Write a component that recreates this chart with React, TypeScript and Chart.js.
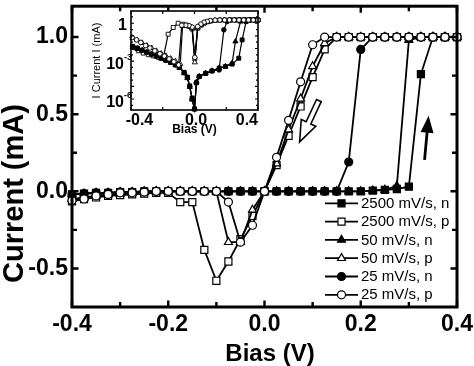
import React, { useEffect, useRef } from 'react';
import { Chart, registerables } from 'chart.js';

Chart.register(...registerables);

const FONT = '"Liberation Sans", Arial, Helvetica, sans-serif';

// ---------------- main plot data ----------------
const xTickValues = [-0.4, -0.2, 0, 0.2, 0.4];
const xMinorValues = [-0.3, -0.1, 0.1, 0.3];
const yTickValues = [-0.5, 0, 0.5, 1.0];
const yMinorValues = [-0.25, 0.25, 0.75];

const seriesLabels = ['2500 mV/s, n', '2500 mV/s, p', '50 mV/s, n', '50 mV/s, p', '25 mV/s, n', '25 mV/s, p'];

// forward sweep (n): -0.4 -> 0.4
const biasForward = [-0.4, -0.375, -0.35, -0.325, -0.3, -0.275, -0.25, -0.225, -0.2, -0.175, -0.15, -0.125, -0.1, -0.075, -0.05, -0.025, 0, 0.025, 0.05, 0.075, 0.1, 0.125, 0.15, 0.175, 0.2, 0.225, 0.25, 0.275, 0.3, 0.325, 0.35, 0.375, 0.4];
// reverse sweep (p): 0.4 -> -0.4
const biasReverse = [0.4, 0.375, 0.35, 0.325, 0.3, 0.275, 0.25, 0.225, 0.2, 0.175, 0.15, 0.125, 0.1, 0.075, 0.05, 0.025, 0, -0.025, -0.05, -0.075, -0.1, -0.125, -0.15, -0.175, -0.2, -0.225, -0.25, -0.275, -0.3, -0.325, -0.35, -0.375, -0.4];

const cur2500n = [-0.02, -0.015, -0.01, -0.01, -0.005, -0.005, 0, 0, 0, 0, 0, 0, 0, 0, 0, 0, 0, 0, 0, 0, 0, 0, 0, 0, 0, 0.005, 0.01, 0.015, 0.03, 0.76, 1.0, 1.0, 1.0];
const cur2500p = [1, 1, 1, 1, 1, 1, 1, 1, 1, 1, 1, 0.92, 0.74, 0.55, 0.36, 0.17, 0, -0.16, -0.31, -0.455, -0.58, -0.38, -0.07, -0.07, -0.01, -0.01, -0.015, -0.02, -0.025, -0.03, -0.04, -0.05, -0.065];
const cur50n = [-0.02, -0.015, -0.01, -0.01, -0.005, -0.005, 0, 0, 0, 0, 0, 0, 0, 0, 0, 0, 0, 0, 0, 0, 0, 0, 0, 0, 0, 0.005, 0.01, 0.035, 0.98, 1.0, 1.0, 1.0, 1.0];
const cur50p = [1, 1, 1, 1, 1, 1, 1, 1, 1, 1, 1, 0.96, 0.81, 0.6, 0.4, 0.18, 0, -0.12, -0.33, -0.33, 0, 0, 0, 0, 0, 0, -0.005, -0.01, -0.015, -0.02, -0.03, -0.04, -0.05];
const cur25n = [-0.02, -0.015, -0.01, -0.01, -0.005, -0.005, 0, 0, 0, 0, 0, 0, 0, 0, 0, 0, 0, 0, 0, 0, 0, 0, 0, 0.19, 0.92, 1.0, 1.0, 1.0, 1.0, 1.0, 1.0, 1.0, 1.0];
const cur25p = [1, 1, 1, 1, 1, 1, 1, 1, 1, 1, 1, 1, 0.95, 0.71, 0.46, 0.22, 0, -0.22, -0.33, -0.07, 0, 0, 0, 0, 0, 0, -0.005, -0.01, -0.01, -0.02, -0.03, -0.05, -0.06];

// ---------------- inset data (|I|, log scale) ----------------
const insetXTicks = [-0.4, 0, 0.4];
const insetXMinor = [-0.2, 0.2];
const insetYTicks = [1, 1e-3, 1e-6];

const inBiasN25 = [-0.39, -0.36, -0.33, -0.3, -0.27, -0.24, -0.21, -0.18, -0.15, -0.12, -0.095, -0.065, -0.045, -0.03, -0.015, 0, 0.012, 0.03, 0.07, 0.11, 0.155, 0.185, 0.205, 0.23, 0.26, 0.29, 0.32, 0.35, 0.38, 0.4];
const inCurN25 = [0.014, 0.01, 0.007, 0.005, 0.0035, 0.0025, 0.0017, 0.0012, 0.0008, 0.0005, 0.00032, 0.00012, 0.00005, 0.00001, 0.000001, 1.6e-7, 0.00002, 0.00006, 0.00011, 0.00017, 0.0002, 0.3, 1.35, 1.8, 1.8, 1.8, 1.8, 1.8, 1.8, 1.8];
const inBiasN50 = [-0.39, -0.36, -0.33, -0.3, -0.27, -0.24, -0.21, -0.18, -0.15, -0.12, -0.095, -0.065, -0.045, -0.03, -0.015, 0, 0.012, 0.03, 0.07, 0.11, 0.155, 0.195, 0.237, 0.258, 0.29, 0.32, 0.35, 0.38, 0.4];
const inCurN50 = [0.013, 0.0095, 0.0068, 0.0048, 0.0034, 0.0024, 0.0016, 0.0011, 0.00075, 0.00048, 0.0003, 0.00011, 0.000045, 0.000009, 0.0000009, 1.5e-7, 0.000022, 0.000063, 0.00011, 0.00017, 0.00028, 0.00038, 0.0007, 0.036, 1.35, 1.8, 1.8, 1.8, 1.8];
const inBiasN2500 = [-0.39, -0.36, -0.33, -0.3, -0.27, -0.24, -0.21, -0.18, -0.15, -0.12, -0.095, -0.065, -0.045, -0.03, -0.015, 0, 0.012, 0.03, 0.07, 0.11, 0.155, 0.195, 0.237, 0.279, 0.3, 0.325, 0.35, 0.38, 0.4];
const inCurN2500 = [0.015, 0.011, 0.0075, 0.0052, 0.0036, 0.0026, 0.0018, 0.0012, 0.00082, 0.00052, 0.00033, 0.00013, 0.000055, 0.000011, 0.0000012, 1.7e-7, 0.000019, 0.00006, 0.000105, 0.000165, 0.00028, 0.00038, 0.00058, 0.0017, 0.048, 1.35, 1.8, 1.8, 1.8];

const inBiasP25 = [0.4, 0.37, 0.34, 0.31, 0.28, 0.25, 0.22, 0.19, 0.16, 0.13, 0.1, 0.08, 0.06, 0.04, 0.02, 0.002, -0.015, -0.035, -0.055, -0.08, -0.1, -0.13, -0.16, -0.19, -0.218, -0.25, -0.281, -0.308, -0.338, -0.365, -0.392];
const inCurP25 = [1.8, 1.8, 1.8, 1.8, 1.8, 1.8, 1.8, 1.8, 1.8, 1.75, 1.6, 1.4, 1.2, 0.85, 0.55, 0.002, 0.5, 0.65, 0.7, 0.7, 0.0005, 0.0009, 0.0015, 0.0025, 0.0038, 0.0065, 0.011, 0.017, 0.03, 0.048, 0.074];
const inBiasP50 = [0.4, 0.37, 0.34, 0.31, 0.28, 0.25, 0.22, 0.19, 0.16, 0.13, 0.1, 0.08, 0.06, 0.04, 0.02, 0.002, -0.015, -0.035, -0.055, -0.075, -0.09, -0.12, -0.15, -0.18, -0.21, -0.24, -0.27, -0.3, -0.33, -0.36, -0.39];
const inCurP50 = [1.8, 1.8, 1.8, 1.8, 1.8, 1.8, 1.8, 1.8, 1.75, 1.65, 1.45, 1.25, 1.0, 0.7, 0.45, 0.0008, 0.4, 0.55, 0.6, 0.6, 0.0006, 0.001, 0.0016, 0.0026, 0.004, 0.0065, 0.011, 0.017, 0.028, 0.045, 0.07];
const inBiasP2500 = [0.4, 0.37, 0.34, 0.31, 0.28, 0.25, 0.22, 0.19, 0.16, 0.13, 0.1, 0.08, 0.06, 0.04, 0.02, 0.002, -0.015, -0.03, -0.05, -0.071, -0.103, -0.134, -0.166, -0.197, -0.228, -0.26, -0.291, -0.323, -0.354, -0.386];
const inCurP2500 = [1.8, 1.8, 1.8, 1.8, 1.8, 1.8, 1.8, 1.8, 1.75, 1.7, 1.5, 1.3, 1.0, 0.7, 0.4, 0.0015, 0.35, 0.55, 0.7, 0.83, 1.0, 0.46, 0.135, 0.0017, 0.002, 0.0026, 0.0032, 0.0043, 0.0066, 0.012];

// ---------------- styles ----------------
const markerStyles = ['rect', 'rect', 'triangle', 'triangle', 'circle', 'circle'];
const markerFills = ['#000', '#fff', '#000', '#fff', '#000', '#fff'];
const mainRadius = [5, 5, 4.6, 4.6, 4, 4];
const insetRadius = [2.8, 2.8, 3, 3, 2.3, 2.3];
const drawOrder = [5, 4, 3, 2, 1, 0];

function toPoints(xs: number[], ys: number[]) {
  return xs.map((x, i) => ({ x, y: ys[i] }));
}

function zeroPadding(s: any) {
  s.paddingTop = 0;
  s.paddingBottom = 0;
  s.paddingLeft = 0;
  s.paddingRight = 0;
}

function drawMarker(ctx: CanvasRenderingContext2D, style: string, x: number, y: number, r: number, fill: string, lw: number) {
  ctx.save();
  ctx.beginPath();
  if (style === 'rect') {
    const s = r * Math.SQRT1_2;
    ctx.rect(x - s, y - s, 2 * s, 2 * s);
  } else if (style === 'triangle') {
    let rad = 0;
    ctx.moveTo(x + Math.sin(rad) * r, y - Math.cos(rad) * r);
    rad += (2 * Math.PI) / 3;
    ctx.lineTo(x + Math.sin(rad) * r, y - Math.cos(rad) * r);
    rad += (2 * Math.PI) / 3;
    ctx.lineTo(x + Math.sin(rad) * r, y - Math.cos(rad) * r);
    ctx.closePath();
  } else {
    ctx.arc(x, y, r, 0, Math.PI * 2);
  }
  ctx.fillStyle = fill;
  ctx.fill();
  ctx.lineWidth = lw;
  ctx.strokeStyle = '#000';
  ctx.stroke();
  ctx.restore();
}

function drawArrow(ctx: CanvasRenderingContext2D, x0: number, y0: number, x1: number, y1: number, headLen: number, headHalf: number, shaftHalf: number, hollow: boolean) {
  const dx = x1 - x0;
  const dy = y1 - y0;
  const len = Math.hypot(dx, dy);
  const ux = dx / len;
  const uy = dy / len;
  const nx = -uy;
  const ny = ux;
  const bx = x1 - ux * headLen;
  const by = y1 - uy * headLen;
  ctx.save();
  ctx.beginPath();
  ctx.moveTo(x0 + nx * shaftHalf, y0 + ny * shaftHalf);
  ctx.lineTo(bx + nx * shaftHalf, by + ny * shaftHalf);
  ctx.lineTo(bx + nx * headHalf, by + ny * headHalf);
  ctx.lineTo(x1, y1);
  ctx.lineTo(bx - nx * headHalf, by - ny * headHalf);
  ctx.lineTo(bx - nx * shaftHalf, by - ny * shaftHalf);
  ctx.lineTo(x0 - nx * shaftHalf, y0 - ny * shaftHalf);
  ctx.closePath();
  if (hollow) {
    ctx.fillStyle = '#fff';
    ctx.fill();
    ctx.lineWidth = 1.6;
    ctx.strokeStyle = '#000';
    ctx.lineJoin = 'miter';
    ctx.stroke();
  } else {
    ctx.fillStyle = '#000';
    ctx.fill();
  }
  ctx.restore();
}

const mainDecor = {
  id: 'mainDecor',
  afterDraw(chart: any) {
    const ctx: CanvasRenderingContext2D = chart.ctx;
    const { left, right, top, bottom } = chart.chartArea;
    const xs = chart.scales.x;
    const ys = chart.scales.y;
    ctx.save();
    // arrows
    drawArrow(ctx, xs.getPixelForValue(0.113), ys.getPixelForValue(0.588), xs.getPixelForValue(0.073), ys.getPixelForValue(0.32), 21, 8, 2.6, true);
    drawArrow(ctx, xs.getPixelForValue(0.3326), ys.getPixelForValue(0.203), xs.getPixelForValue(0.341), ys.getPixelForValue(0.49), 17, 6.5, 1.4, false);

    // frame
    ctx.strokeStyle = '#000';
    ctx.lineWidth = 3;
    ctx.strokeRect(left, top, right - left, bottom - top);

    // ticks
    ctx.lineWidth = 2.4;
    ctx.beginPath();
    const xt = (v: number, len: number) => {
      const p = xs.getPixelForValue(v);
      ctx.moveTo(p, bottom);
      ctx.lineTo(p, bottom - len);
      ctx.moveTo(p, top);
      ctx.lineTo(p, top + len);
    };
    const yt = (v: number, len: number) => {
      const p = ys.getPixelForValue(v);
      ctx.moveTo(left, p);
      ctx.lineTo(left + len, p);
      ctx.moveTo(right, p);
      ctx.lineTo(right - len, p);
    };
    xTickValues.forEach((v) => xt(v, 6.5));
    xMinorValues.forEach((v) => xt(v, 5));
    yTickValues.forEach((v) => yt(v, 6.5));
    yMinorValues.forEach((v) => yt(v, 5));
    ctx.stroke();

    // axis titles
    ctx.fillStyle = '#000';
    ctx.font = `bold 24px ${FONT}`;
    ctx.textAlign = 'center';
    ctx.textBaseline = 'alphabetic';
    ctx.fillText('Bias (V)', 270, 361);
    ctx.save();
    ctx.translate(23, 193.5);
    ctx.rotate(-Math.PI / 2);
    ctx.font = `bold 29px ${FONT}`;
    ctx.fillText('Current (mA)', 0, 0);
    ctx.restore();

    // legend
    const rowY = [203.3, 221.6, 239.9, 258.2, 276.5, 294.8];
    ctx.font = `15px ${FONT}`;
    ctx.textAlign = 'left';
    ctx.textBaseline = 'middle';
    seriesLabels.forEach((lab, i) => {
      const y = rowY[i];
      ctx.beginPath();
      ctx.lineWidth = 1.8;
      ctx.moveTo(325, y);
      ctx.lineTo(358, y);
      ctx.stroke();
      drawMarker(ctx, markerStyles[i], 341.5, y, mainRadius[i], markerFills[i], 1.2);
      ctx.fillStyle = '#000';
      ctx.fillText(lab, 361, y + 0.5);
    });
    ctx.restore();
  },
};

const insetDecor = {
  id: 'insetDecor',
  beforeDatasetsDraw(chart: any) {
    const ctx: CanvasRenderingContext2D = chart.ctx;
    const { left, right, top, bottom } = chart.chartArea;
    ctx.save();
    ctx.fillStyle = '#fff';
    ctx.fillRect(left, top, right - left, bottom - top);
    ctx.restore();
  },
  afterDraw(chart: any) {
    const ctx: CanvasRenderingContext2D = chart.ctx;
    const { left, right, top, bottom } = chart.chartArea;
    const xs = chart.scales.x;
    const ys = chart.scales.y;
    ctx.save();
    ctx.strokeStyle = '#000';
    ctx.lineWidth = 1.6;
    ctx.strokeRect(left, top, right - left, bottom - top);

    ctx.lineWidth = 1.2;
    ctx.beginPath();
    [...insetXTicks, ...insetXMinor].forEach((v) => {
      const p = xs.getPixelForValue(v);
      ctx.moveTo(p, bottom);
      ctx.lineTo(p, bottom - 3);
      ctx.moveTo(p, top);
      ctx.lineTo(p, top + 3);
    });
    for (let e = -13; e <= 1; e++) {
      const v = Math.pow(10, e / 2);
      const p = ys.getPixelForValue(v);
      if (p < top + 1 || p > bottom - 1) continue;
      const len = e % 2 === 0 ? 3 : 2;
      ctx.moveTo(left, p);
      ctx.lineTo(left + len, p);
      ctx.moveTo(right, p);
      ctx.lineTo(right - len, p);
    }
    ctx.stroke();

    ctx.fillStyle = '#000';
    // x tick labels
    ctx.font = `bold 16px ${FONT}`;
    ctx.textBaseline = 'alphabetic';
    const lblY = bottom + 15;
    const minusW = ctx.measureText('-').width;
    ctx.textAlign = 'left';
    ctx.fillText('-0.4', xs.getPixelForValue(-0.4) - minusW, lblY);
    ctx.textAlign = 'center';
    ctx.fillText('0.0', xs.getPixelForValue(0) + 1.5, lblY);
    ctx.textAlign = 'right';
    ctx.fillText('0.4', xs.getPixelForValue(0.4), lblY);

    // y tick labels
    insetYTicks.forEach((v) => {
      const p = ys.getPixelForValue(v);
      const e = Math.round(Math.log10(v));
      if (e === 0) {
        ctx.font = `bold 16px ${FONT}`;
        ctx.textAlign = 'right';
        ctx.fillText('1', left - 4, p + 6.5);
      } else {
        ctx.font = `bold 9px ${FONT}`;
        ctx.textAlign = 'left';
        ctx.fillText(String(e), left - 7, p - 1.5);
        ctx.font = `bold 16px ${FONT}`;
        ctx.textAlign = 'right';
        ctx.fillText('10', left - 7, p + 7.5);
      }
    });

    // titles
    ctx.font = `bold 12px ${FONT}`;
    ctx.textAlign = 'center';
    ctx.fillText('Bias (V)', xs.getPixelForValue(0), bottom + 23);
    ctx.save();
    ctx.translate(20, (top + bottom) / 2 + 0);
    ctx.rotate(-Math.PI / 2);
    ctx.font = `11px ${FONT}`;
    ctx.fillText('I Current I (mA)', 0, 0);
    ctx.restore();
    ctx.restore();
  },
};

function makeMainConfig(): any {
  const series = [
    toPoints(biasForward, cur2500n),
    toPoints(biasReverse, cur2500p),
    toPoints(biasForward, cur50n),
    toPoints(biasReverse, cur50p),
    toPoints(biasForward, cur25n),
    toPoints(biasReverse, cur25p),
  ];
  return {
    type: 'scatter',
    data: {
      datasets: series.map((data, i) => ({
        label: seriesLabels[i],
        data,
        showLine: true,
        borderColor: '#000',
        borderWidth: 1.8,
        pointStyle: markerStyles[i],
        pointRadius: mainRadius[i],
        pointBackgroundColor: markerFills[i],
        pointBorderColor: '#000',
        pointBorderWidth: 1.2,
        order: drawOrder[i],
        clip: false,
      })),
    },
    options: {
      animation: false,
      responsive: false,
      maintainAspectRatio: false,
      devicePixelRatio: 1,
      events: [],
      layout: { padding: { left: 0, top: 2, right: 17, bottom: 0 } },
      plugins: { legend: { display: false }, tooltip: { enabled: false } },
      scales: {
        x: {
          type: 'linear',
          min: -0.4,
          max: 0.4,
          grid: { display: false, drawTicks: false },
          border: { display: false },
          afterBuildTicks: (s: any) => {
            s.ticks = xTickValues.map((v) => ({ value: v }));
          },
          afterFit: (s: any) => {
            s.height = 59;
            zeroPadding(s);
          },
          ticks: {
            padding: 4,
            autoSkip: false,
            maxRotation: 0,
            color: '#000',
            font: { family: FONT, size: 23, weight: 'bold' },
            callback: (v: any) => Number(v).toFixed(1),
          },
        },
        y: {
          type: 'linear',
          min: -0.75,
          max: 1.2,
          grid: { display: false, drawTicks: false },
          border: { display: false },
          afterBuildTicks: (s: any) => {
            s.ticks = yTickValues.map((v) => ({ value: v }));
          },
          afterFit: (s: any) => {
            s.width = 72;
            zeroPadding(s);
          },
          ticks: {
            padding: 4,
            autoSkip: false,
            color: '#000',
            font: { family: FONT, size: 23, weight: 'bold' },
            callback: (v: any) => Number(v).toFixed(1),
          },
        },
      },
    },
    plugins: [mainDecor],
  };
}

function makeInsetConfig(): any {
  const series = [
    toPoints(inBiasN2500, inCurN2500),
    toPoints(inBiasP2500, inCurP2500),
    toPoints(inBiasN50, inCurN50),
    toPoints(inBiasP50, inCurP50),
    toPoints(inBiasN25, inCurN25),
    toPoints(inBiasP25, inCurP25),
  ];
  return {
    type: 'scatter',
    data: {
      datasets: series.map((data, i) => ({
        label: seriesLabels[i],
        data,
        showLine: true,
        borderColor: '#000',
        borderWidth: 1.2,
        pointStyle: markerStyles[i],
        pointRadius: insetRadius[i],
        pointBackgroundColor: markerFills[i],
        pointBorderColor: '#000',
        pointBorderWidth: 0.9,
        order: drawOrder[i],
        clip: 3,
      })),
    },
    options: {
      animation: false,
      responsive: false,
      maintainAspectRatio: false,
      devicePixelRatio: 1,
      events: [],
      layout: { padding: { left: 0, top: 11, right: 7, bottom: 0 } },
      plugins: { legend: { display: false }, tooltip: { enabled: false } },
      scales: {
        x: {
          type: 'linear',
          min: -0.4,
          max: 0.4,
          grid: { display: false, drawTicks: false },
          border: { display: false },
          ticks: { display: false },
          afterFit: (s: any) => {
            s.height = 30;
            zeroPadding(s);
          },
        },
        y: {
          type: 'logarithmic',
          min: 1.35e-7,
          max: 9.3,
          grid: { display: false, drawTicks: false },
          border: { display: false },
          ticks: { display: false },
          afterFit: (s: any) => {
            s.width = 51;
            zeroPadding(s);
          },
        },
      },
    },
    plugins: [insetDecor],
  };
}

export default function App() {
  const mainRef = useRef<HTMLCanvasElement>(null);
  const insetRef = useRef<HTMLCanvasElement>(null);

  useEffect(() => {
    const main = new Chart(mainRef.current as HTMLCanvasElement, makeMainConfig());
    const inset = new Chart(insetRef.current as HTMLCanvasElement, makeInsetConfig());
    return () => {
      main.destroy();
      inset.destroy();
    };
  }, []);

  return (
    <div style={{ position: 'fixed', left: 0, top: 0, width: 474, height: 366, background: '#fff', overflow: 'hidden' }}>
      <canvas ref={mainRef} width={474} height={366} style={{ position: 'absolute', left: 0, top: 0, width: 474, height: 366 }} />
      <canvas ref={insetRef} width={185} height={140} style={{ position: 'absolute', left: 80, top: 0, width: 185, height: 140 }} />
    </div>
  );
}
